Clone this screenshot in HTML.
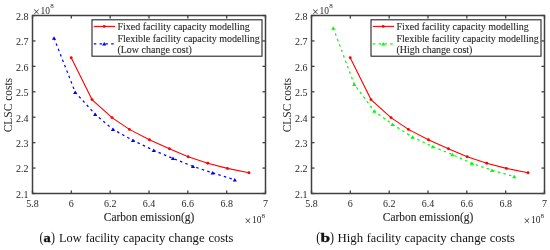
<!DOCTYPE html>
<html><head><meta charset="utf-8"><style>
html,body{margin:0;padding:0;background:#fff;width:550px;height:250px;overflow:hidden}
svg{display:block;will-change:transform}
text{font-family:"Liberation Serif",serif;fill:#262626;stroke:#262626;stroke-width:0.25px}
.t{font-size:10px;stroke:none}
.e,.x,.s{stroke:none}
.s{font-size:7px}
.x{font-size:12px}
.e{font-size:10.5px}
.l{font-size:11.8px;stroke-width:0.12px}
.ly{font-size:11.8px;stroke:none}
.g{font-size:11.0px;stroke-width:0.1px}
.c{font-size:11.5px;fill:#111;stroke:none}
.b{font-weight:bold;stroke:#111;stroke-width:0.3px;font-size:12.5px}
.p{font-size:14px;font-weight:normal;stroke:none}
</style></head><body>
<svg width="550" height="250" viewBox="0 0 550 250">
<rect width="550" height="250" fill="#fff"/>
<g transform="translate(0,0)">
<polyline points="71.20,57.80 92.00,99.60 112.00,117.60 129.40,129.40 149.40,139.80 169.40,148.80 188.20,156.80 207.80,163.20 227.40,168.40 249.00,172.80" fill="none" stroke="#f00" stroke-width="1.1"/>
<circle cx="71.2" cy="57.8" r="1.45" fill="#f00"/>
<circle cx="92" cy="99.6" r="1.45" fill="#f00"/>
<circle cx="112" cy="117.6" r="1.45" fill="#f00"/>
<circle cx="129.4" cy="129.4" r="1.45" fill="#f00"/>
<circle cx="149.4" cy="139.8" r="1.45" fill="#f00"/>
<circle cx="169.4" cy="148.8" r="1.45" fill="#f00"/>
<circle cx="188.2" cy="156.8" r="1.45" fill="#f00"/>
<circle cx="207.8" cy="163.2" r="1.45" fill="#f00"/>
<circle cx="227.4" cy="168.4" r="1.45" fill="#f00"/>
<circle cx="249" cy="172.8" r="1.45" fill="#f00"/>
<polyline points="54.00,38.00 75.20,92.20 95.20,114.40 113.00,129.40 133.00,140.40 153.80,150.40 173.00,158.40 193.00,166.40 212.60,172.80 234.80,179.80" fill="none" stroke="#00f" stroke-width="1.25" stroke-dasharray="2.5,3.3"/>
<path d="M54.00 36.20L56.09 39.72L51.91 39.72Z" fill="#00f"/>
<path d="M75.20 90.40L77.29 93.92L73.11 93.92Z" fill="#00f"/>
<path d="M95.20 112.60L97.29 116.12L93.11 116.12Z" fill="#00f"/>
<path d="M113.00 127.60L115.09 131.12L110.91 131.12Z" fill="#00f"/>
<path d="M133.00 138.60L135.09 142.12L130.91 142.12Z" fill="#00f"/>
<path d="M153.80 148.60L155.89 152.12L151.71 152.12Z" fill="#00f"/>
<path d="M173.00 156.60L175.09 160.12L170.91 160.12Z" fill="#00f"/>
<path d="M193.00 164.60L195.09 168.12L190.91 168.12Z" fill="#00f"/>
<path d="M212.60 171.00L214.69 174.52L210.51 174.52Z" fill="#00f"/>
<path d="M234.80 178.00L236.89 181.52L232.71 181.52Z" fill="#00f"/>
<rect x="32.5" y="15.5" width="233.0" height="178.0" fill="none" stroke="#404040" stroke-width="1.5"/>
<line x1="32.50" y1="193.5" x2="32.50" y2="190.5" stroke="#404040" stroke-width="1.3"/>
<line x1="32.50" y1="15.5" x2="32.50" y2="18.5" stroke="#404040" stroke-width="1.3"/>
<text x="32.50" y="207.4" text-anchor="middle" class="t">5.8</text>
<line x1="71.33" y1="193.5" x2="71.33" y2="190.5" stroke="#404040" stroke-width="1.3"/>
<line x1="71.33" y1="15.5" x2="71.33" y2="18.5" stroke="#404040" stroke-width="1.3"/>
<text x="71.33" y="207.4" text-anchor="middle" class="t">6</text>
<line x1="110.17" y1="193.5" x2="110.17" y2="190.5" stroke="#404040" stroke-width="1.3"/>
<line x1="110.17" y1="15.5" x2="110.17" y2="18.5" stroke="#404040" stroke-width="1.3"/>
<text x="110.17" y="207.4" text-anchor="middle" class="t">6.2</text>
<line x1="149.00" y1="193.5" x2="149.00" y2="190.5" stroke="#404040" stroke-width="1.3"/>
<line x1="149.00" y1="15.5" x2="149.00" y2="18.5" stroke="#404040" stroke-width="1.3"/>
<text x="149.00" y="207.4" text-anchor="middle" class="t">6.4</text>
<line x1="187.83" y1="193.5" x2="187.83" y2="190.5" stroke="#404040" stroke-width="1.3"/>
<line x1="187.83" y1="15.5" x2="187.83" y2="18.5" stroke="#404040" stroke-width="1.3"/>
<text x="187.83" y="207.4" text-anchor="middle" class="t">6.6</text>
<line x1="226.67" y1="193.5" x2="226.67" y2="190.5" stroke="#404040" stroke-width="1.3"/>
<line x1="226.67" y1="15.5" x2="226.67" y2="18.5" stroke="#404040" stroke-width="1.3"/>
<text x="226.67" y="207.4" text-anchor="middle" class="t">6.8</text>
<line x1="265.50" y1="193.5" x2="265.50" y2="190.5" stroke="#404040" stroke-width="1.3"/>
<line x1="265.50" y1="15.5" x2="265.50" y2="18.5" stroke="#404040" stroke-width="1.3"/>
<text x="265.50" y="207.4" text-anchor="middle" class="t">7</text>
<line x1="32.5" y1="193.50" x2="35.5" y2="193.50" stroke="#404040" stroke-width="1.3"/>
<line x1="265.5" y1="193.50" x2="262.5" y2="193.50" stroke="#404040" stroke-width="1.3"/>
<text x="28.4" y="197.80" text-anchor="end" class="t">2.1</text>
<line x1="32.5" y1="168.07" x2="35.5" y2="168.07" stroke="#404040" stroke-width="1.3"/>
<line x1="265.5" y1="168.07" x2="262.5" y2="168.07" stroke="#404040" stroke-width="1.3"/>
<text x="28.4" y="172.37" text-anchor="end" class="t">2.2</text>
<line x1="32.5" y1="142.64" x2="35.5" y2="142.64" stroke="#404040" stroke-width="1.3"/>
<line x1="265.5" y1="142.64" x2="262.5" y2="142.64" stroke="#404040" stroke-width="1.3"/>
<text x="28.4" y="146.94" text-anchor="end" class="t">2.3</text>
<line x1="32.5" y1="117.21" x2="35.5" y2="117.21" stroke="#404040" stroke-width="1.3"/>
<line x1="265.5" y1="117.21" x2="262.5" y2="117.21" stroke="#404040" stroke-width="1.3"/>
<text x="28.4" y="121.51" text-anchor="end" class="t">2.4</text>
<line x1="32.5" y1="91.79" x2="35.5" y2="91.79" stroke="#404040" stroke-width="1.3"/>
<line x1="265.5" y1="91.79" x2="262.5" y2="91.79" stroke="#404040" stroke-width="1.3"/>
<text x="28.4" y="96.09" text-anchor="end" class="t">2.5</text>
<line x1="32.5" y1="66.36" x2="35.5" y2="66.36" stroke="#404040" stroke-width="1.3"/>
<line x1="265.5" y1="66.36" x2="262.5" y2="66.36" stroke="#404040" stroke-width="1.3"/>
<text x="28.4" y="70.66" text-anchor="end" class="t">2.6</text>
<line x1="32.5" y1="40.93" x2="35.5" y2="40.93" stroke="#404040" stroke-width="1.3"/>
<line x1="265.5" y1="40.93" x2="262.5" y2="40.93" stroke="#404040" stroke-width="1.3"/>
<text x="28.4" y="45.23" text-anchor="end" class="t">2.7</text>
<line x1="32.5" y1="15.50" x2="35.5" y2="15.50" stroke="#404040" stroke-width="1.3"/>
<line x1="265.5" y1="15.50" x2="262.5" y2="15.50" stroke="#404040" stroke-width="1.3"/>
<text x="28.4" y="19.80" text-anchor="end" class="t">2.8</text>
<text x="33.0" y="15.6" class="x">×</text>
<text transform="translate(40.6,13.5) scale(0.9,1)" class="e">10</text>
<text x="50.2" y="8.3" class="s">8</text>
<text x="244.4" y="224.7" class="x">×</text>
<text transform="translate(252.0,222.6) scale(0.9,1)" class="e">10</text>
<text x="261.6" y="217.6" class="s">8</text>
<text transform="translate(149,220.6) scale(0.97,1)" text-anchor="middle" class="l">Carbon emission(g)</text>
<text transform="translate(11.6,105.1) rotate(-90) scale(0.97,1)" text-anchor="middle" class="ly">CLSC costs</text>
<rect x="92" y="19.8" width="170" height="36.4" fill="#fff" stroke="#262626" stroke-width="1.1"/>
<line x1="93.8" y1="26.4" x2="115" y2="26.4" stroke="#f00" stroke-width="1.1"/>
<circle cx="104.2" cy="26.4" r="1.45" fill="#f00"/>
<line x1="93.8" y1="43.8" x2="115" y2="43.8" stroke="#00f" stroke-width="1.25" stroke-dasharray="2.5,3.3"/>
<path d="M104.20 42.10L106.29 45.62L102.11 45.62Z" fill="#00f"/>
<text transform="translate(117.4,30) scale(0.91,1)" class="g">Fixed facility capacity modelling</text>
<text transform="translate(117.4,41.6) scale(0.91,1)" class="g">Flexible facility capacity modelling</text>
<text transform="translate(117.4,53.2) scale(0.91,1)" class="g">(Low change cost)</text>
</g>
<g transform="translate(279,0)">
<polyline points="71.20,57.80 92.00,99.60 112.00,117.60 129.40,129.40 149.40,139.80 169.40,148.80 188.20,156.80 207.80,163.20 227.40,168.40 249.00,172.80" fill="none" stroke="#f00" stroke-width="1.1"/>
<circle cx="71.2" cy="57.8" r="1.45" fill="#f00"/>
<circle cx="92" cy="99.6" r="1.45" fill="#f00"/>
<circle cx="112" cy="117.6" r="1.45" fill="#f00"/>
<circle cx="129.4" cy="129.4" r="1.45" fill="#f00"/>
<circle cx="149.4" cy="139.8" r="1.45" fill="#f00"/>
<circle cx="169.4" cy="148.8" r="1.45" fill="#f00"/>
<circle cx="188.2" cy="156.8" r="1.45" fill="#f00"/>
<circle cx="207.8" cy="163.2" r="1.45" fill="#f00"/>
<circle cx="227.4" cy="168.4" r="1.45" fill="#f00"/>
<circle cx="249" cy="172.8" r="1.45" fill="#f00"/>
<polyline points="54.20,28.00 75.20,84.20 95.20,111.00 113.40,124.20 133.40,137.00 153.80,146.60 173.40,154.60 193.00,163.40 213.00,170.20 235.20,176.60" fill="none" stroke="#0f0" stroke-width="1.25" stroke-dasharray="2.5,3.3"/>
<path d="M54.20 26.20L56.29 29.72L52.11 29.72Z" fill="#0f0"/>
<path d="M75.20 82.40L77.29 85.92L73.11 85.92Z" fill="#0f0"/>
<path d="M95.20 109.20L97.29 112.72L93.11 112.72Z" fill="#0f0"/>
<path d="M113.40 122.40L115.49 125.92L111.31 125.92Z" fill="#0f0"/>
<path d="M133.40 135.20L135.49 138.72L131.31 138.72Z" fill="#0f0"/>
<path d="M153.80 144.80L155.89 148.32L151.71 148.32Z" fill="#0f0"/>
<path d="M173.40 152.80L175.49 156.32L171.31 156.32Z" fill="#0f0"/>
<path d="M193.00 161.60L195.09 165.12L190.91 165.12Z" fill="#0f0"/>
<path d="M213.00 168.40L215.09 171.92L210.91 171.92Z" fill="#0f0"/>
<path d="M235.20 174.80L237.29 178.32L233.11 178.32Z" fill="#0f0"/>
<rect x="32.5" y="15.5" width="233.0" height="178.0" fill="none" stroke="#404040" stroke-width="1.5"/>
<line x1="32.50" y1="193.5" x2="32.50" y2="190.5" stroke="#404040" stroke-width="1.3"/>
<line x1="32.50" y1="15.5" x2="32.50" y2="18.5" stroke="#404040" stroke-width="1.3"/>
<text x="32.50" y="207.4" text-anchor="middle" class="t">5.8</text>
<line x1="71.33" y1="193.5" x2="71.33" y2="190.5" stroke="#404040" stroke-width="1.3"/>
<line x1="71.33" y1="15.5" x2="71.33" y2="18.5" stroke="#404040" stroke-width="1.3"/>
<text x="71.33" y="207.4" text-anchor="middle" class="t">6</text>
<line x1="110.17" y1="193.5" x2="110.17" y2="190.5" stroke="#404040" stroke-width="1.3"/>
<line x1="110.17" y1="15.5" x2="110.17" y2="18.5" stroke="#404040" stroke-width="1.3"/>
<text x="110.17" y="207.4" text-anchor="middle" class="t">6.2</text>
<line x1="149.00" y1="193.5" x2="149.00" y2="190.5" stroke="#404040" stroke-width="1.3"/>
<line x1="149.00" y1="15.5" x2="149.00" y2="18.5" stroke="#404040" stroke-width="1.3"/>
<text x="149.00" y="207.4" text-anchor="middle" class="t">6.4</text>
<line x1="187.83" y1="193.5" x2="187.83" y2="190.5" stroke="#404040" stroke-width="1.3"/>
<line x1="187.83" y1="15.5" x2="187.83" y2="18.5" stroke="#404040" stroke-width="1.3"/>
<text x="187.83" y="207.4" text-anchor="middle" class="t">6.6</text>
<line x1="226.67" y1="193.5" x2="226.67" y2="190.5" stroke="#404040" stroke-width="1.3"/>
<line x1="226.67" y1="15.5" x2="226.67" y2="18.5" stroke="#404040" stroke-width="1.3"/>
<text x="226.67" y="207.4" text-anchor="middle" class="t">6.8</text>
<line x1="265.50" y1="193.5" x2="265.50" y2="190.5" stroke="#404040" stroke-width="1.3"/>
<line x1="265.50" y1="15.5" x2="265.50" y2="18.5" stroke="#404040" stroke-width="1.3"/>
<text x="265.50" y="207.4" text-anchor="middle" class="t">7</text>
<line x1="32.5" y1="193.50" x2="35.5" y2="193.50" stroke="#404040" stroke-width="1.3"/>
<line x1="265.5" y1="193.50" x2="262.5" y2="193.50" stroke="#404040" stroke-width="1.3"/>
<text x="28.4" y="197.80" text-anchor="end" class="t">2.1</text>
<line x1="32.5" y1="168.07" x2="35.5" y2="168.07" stroke="#404040" stroke-width="1.3"/>
<line x1="265.5" y1="168.07" x2="262.5" y2="168.07" stroke="#404040" stroke-width="1.3"/>
<text x="28.4" y="172.37" text-anchor="end" class="t">2.2</text>
<line x1="32.5" y1="142.64" x2="35.5" y2="142.64" stroke="#404040" stroke-width="1.3"/>
<line x1="265.5" y1="142.64" x2="262.5" y2="142.64" stroke="#404040" stroke-width="1.3"/>
<text x="28.4" y="146.94" text-anchor="end" class="t">2.3</text>
<line x1="32.5" y1="117.21" x2="35.5" y2="117.21" stroke="#404040" stroke-width="1.3"/>
<line x1="265.5" y1="117.21" x2="262.5" y2="117.21" stroke="#404040" stroke-width="1.3"/>
<text x="28.4" y="121.51" text-anchor="end" class="t">2.4</text>
<line x1="32.5" y1="91.79" x2="35.5" y2="91.79" stroke="#404040" stroke-width="1.3"/>
<line x1="265.5" y1="91.79" x2="262.5" y2="91.79" stroke="#404040" stroke-width="1.3"/>
<text x="28.4" y="96.09" text-anchor="end" class="t">2.5</text>
<line x1="32.5" y1="66.36" x2="35.5" y2="66.36" stroke="#404040" stroke-width="1.3"/>
<line x1="265.5" y1="66.36" x2="262.5" y2="66.36" stroke="#404040" stroke-width="1.3"/>
<text x="28.4" y="70.66" text-anchor="end" class="t">2.6</text>
<line x1="32.5" y1="40.93" x2="35.5" y2="40.93" stroke="#404040" stroke-width="1.3"/>
<line x1="265.5" y1="40.93" x2="262.5" y2="40.93" stroke="#404040" stroke-width="1.3"/>
<text x="28.4" y="45.23" text-anchor="end" class="t">2.7</text>
<line x1="32.5" y1="15.50" x2="35.5" y2="15.50" stroke="#404040" stroke-width="1.3"/>
<line x1="265.5" y1="15.50" x2="262.5" y2="15.50" stroke="#404040" stroke-width="1.3"/>
<text x="28.4" y="19.80" text-anchor="end" class="t">2.8</text>
<text x="33.0" y="15.6" class="x">×</text>
<text transform="translate(40.6,13.5) scale(0.9,1)" class="e">10</text>
<text x="50.2" y="8.3" class="s">8</text>
<text x="244.4" y="224.7" class="x">×</text>
<text transform="translate(252.0,222.6) scale(0.9,1)" class="e">10</text>
<text x="261.6" y="217.6" class="s">8</text>
<text transform="translate(149,220.6) scale(0.97,1)" text-anchor="middle" class="l">Carbon emission(g)</text>
<text transform="translate(11.6,105.1) rotate(-90) scale(0.97,1)" text-anchor="middle" class="ly">CLSC costs</text>
<rect x="92" y="19.8" width="170" height="36.4" fill="#fff" stroke="#262626" stroke-width="1.1"/>
<line x1="93.8" y1="26.4" x2="115" y2="26.4" stroke="#f00" stroke-width="1.1"/>
<circle cx="104.2" cy="26.4" r="1.45" fill="#f00"/>
<line x1="93.8" y1="43.8" x2="115" y2="43.8" stroke="#0f0" stroke-width="1.25" stroke-dasharray="2.5,3.3"/>
<path d="M104.20 42.10L106.29 45.62L102.11 45.62Z" fill="#0f0"/>
<text transform="translate(117.4,30) scale(0.91,1)" class="g">Fixed facility capacity modelling</text>
<text transform="translate(117.4,41.6) scale(0.91,1)" class="g">Flexible facility capacity modelling</text>
<text transform="translate(117.4,53.2) scale(0.91,1)" class="g">(High change cost)</text>
</g>
<text x="39.40" y="241.9" class="c p" textLength="4.00" lengthAdjust="spacingAndGlyphs">(</text>
<text x="43.40" y="241.9" class="c b" textLength="7.20" lengthAdjust="spacingAndGlyphs">a</text>
<text x="51.00" y="241.9" class="c p" textLength="4.00" lengthAdjust="spacingAndGlyphs">)</text>
<text x="59.10" y="241.9" class="c" textLength="22.60" lengthAdjust="spacingAndGlyphs">Low</text>
<text x="85.40" y="241.9" class="c" textLength="34.20" lengthAdjust="spacingAndGlyphs">facility</text>
<text x="123.00" y="241.9" class="c" textLength="42.30" lengthAdjust="spacingAndGlyphs">capacity</text>
<text x="168.60" y="241.9" class="c" textLength="36.00" lengthAdjust="spacingAndGlyphs">change</text>
<text x="208.40" y="241.9" class="c" textLength="25.00" lengthAdjust="spacingAndGlyphs">costs</text>
<text x="316.20" y="241.9" class="c p" textLength="4.00" lengthAdjust="spacingAndGlyphs">(</text>
<text x="320.40" y="241.9" class="c b" textLength="9.60" lengthAdjust="spacingAndGlyphs">b</text>
<text x="330.10" y="241.9" class="c p" textLength="4.00" lengthAdjust="spacingAndGlyphs">)</text>
<text x="337.50" y="241.9" class="c" textLength="25.60" lengthAdjust="spacingAndGlyphs">High</text>
<text x="366.80" y="241.9" class="c" textLength="34.20" lengthAdjust="spacingAndGlyphs">facility</text>
<text x="404.40" y="241.9" class="c" textLength="42.30" lengthAdjust="spacingAndGlyphs">capacity</text>
<text x="450.20" y="241.9" class="c" textLength="36.00" lengthAdjust="spacingAndGlyphs">change</text>
<text x="489.80" y="241.9" class="c" textLength="25.00" lengthAdjust="spacingAndGlyphs">costs</text>
</svg>
</body></html>
